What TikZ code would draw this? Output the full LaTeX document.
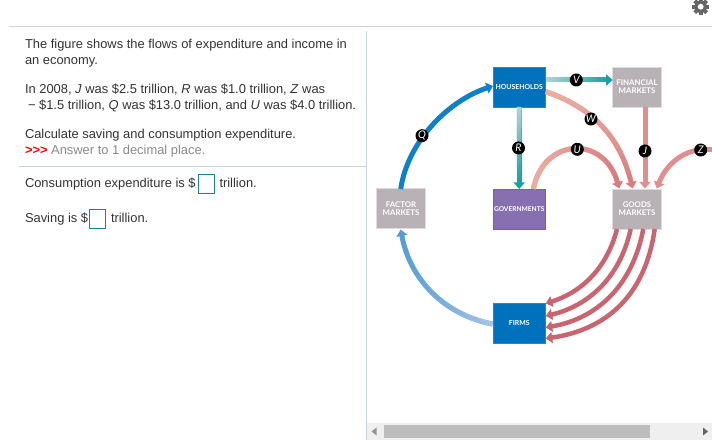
\documentclass[tikz,border=0pt]{standalone}
\usepackage{fontspec}
\setmainfont{Liberation Sans}
\newfontfamily\boxfont{Lato}
\usetikzlibrary{arrows.meta,fadings}
\definecolor{rule}{HTML}{CBD2E2}
\definecolor{ink}{HTML}{333333}
\definecolor{dkblue}{HTML}{0071BC}
\definecolor{qblue}{HTML}{0D80C8}
\definecolor{ltblue}{HTML}{A9C6E6}
\definecolor{fblue}{HTML}{559CD3}
\definecolor{greybox}{HTML}{B8B2B6}
\definecolor{greyedge}{HTML}{DEDADE}
\definecolor{purple1}{HTML}{8870B0}
\definecolor{purple2}{HTML}{7560A8}
\definecolor{teal1}{HTML}{17A1A5}
\definecolor{teal2}{HTML}{B9D6D6}
\definecolor{salmon}{HTML}{EAB1A2}
\definecolor{rose}{HTML}{DF8F8F}
\definecolor{crim}{HTML}{C8656F}
\definecolor{headrose}{HTML}{D87C7F}
\definecolor{answer}{HTML}{1B7FA0}
\definecolor{hint}{HTML}{8A8A8A}
\definecolor{barbg}{HTML}{EFEFEF}
\definecolor{barthumb}{HTML}{BDBDBD}
\definecolor{gearc}{HTML}{666666}
\tikzset{
  x=1pt,y=-1pt,
  body/.style={anchor=base west,inner sep=0pt,outer sep=0pt,text=ink,font=\fontsize{12.9}{15}\selectfont},
  flowbox/.style={minimum height=40pt,inner sep=0pt,outer sep=0pt,align=center,text=white},
  bluebox/.style={flowbox,fill=dkblue,draw=dkblue!85!white,line width=.6pt,minimum width=52.6pt,
     font=\boxfont\bfseries\fontsize{6.9}{7.6}\selectfont},
  greyb/.style={flowbox,fill=greybox,draw=greyedge,line width=.8pt,minimum width=48.6pt,
     font=\boxfont\bfseries\fontsize{7.8}{8}\selectfont},
  purpleb/.style={flowbox,fill=purple1,draw=purple2,line width=.6pt,minimum width=52.6pt,
     font=\boxfont\bfseries\fontsize{6.6}{7.6}\selectfont},
  flowtag/.style={circle,fill=black,minimum size=13pt,inner sep=0pt,text=white,
     font=\boxfont\itshape\fontsize{10.5}{10.5}\selectfont},
  flow/.style={line width=#1,-{Triangle[width=11pt,length=6.5pt]}},
  flow/.default=5pt,
  ansbox/.style={draw=answer,line width=.8pt,inner sep=0pt,minimum width=16pt,minimum height=19pt},
}
\begin{document}
\begin{tikzpicture}
\useasboundingbox (0,0) rectangle (712,446);
\fill[white] (0,0) rectangle (712,446);
% frame rules
\draw[rule,line width=.9pt] (9,26) -- (712,26);
\draw[rule,line width=.9pt] (366.5,31.5) -- (366.5,440);
\draw[rule,line width=.9pt] (19,166) -- (366.5,166);
% settings gear
\begin{scope}[shift={(700.7,6.7)}]
  \foreach \a in {0,45,...,315}
    \fill[gearc,rotate=\a] (-2,-8.4) rectangle (2,0);
  \fill[gearc] (0,0) circle (6.2);
  \fill[white] (0,0) circle (2.9);
\end{scope}
% question text
\node[body] (l1) at (25,49) {The figure shows the flows of expenditure and income in};
\node[body] (l2) at (25,65) {an economy.};
\node[body] (l3) at (25,94) {In 2008, \textit{J} was \$2.5 trillion, \textit{R} was \$1.0 trillion, \textit{Z} was};
\node[body] (l4) at (28,110) {− \$1.5 trillion, \textit{Q} was \$13.0 trillion, and \textit{U} was \$4.0 trillion.};
\node[body] (l5) at (25,139) {Calculate saving and consumption expenditure.};
\node[body,text=hint] (l6) at (25,155) {\textcolor{red}{\textbf{>{}>{}>}} Answer to 1 decimal place.};
\node[body] (c1) at (25,188) {Consumption expenditure is \$};
\node[ansbox] (cbox) at (206.5,183.7) {};
\node[body] (c2) at (219.5,188) {trillion.};
\node[body] (s1) at (25,223) {Saving is \$};
\node[ansbox] (sbox) at (97.8,218.5) {};
\node[body] (s2) at (111,223) {trillion.};
% boxes
\node[bluebox] (hh) at (519.2,87) {HOUSEHOLDS};
\node[greyb] (fin) at (637,87) {FINANCIAL\\MARKETS};
\node[greyb] (fac) at (401,208.7) {FACTOR\\MARKETS};
\node[purpleb] (gov) at (519.2,209) {GOVERNMENTS};
\node[greyb] (goods) at (637,209) {GOODS\\MARKETS};
\node[bluebox] (firms) at (519.2,323.5) {FIRMS};
% connector ends
\coordinate (qs) at (400.7,189);
\coordinate (qe) at (493,86);
\coordinate (fs) at (492.5,324);
\coordinate (fe) at (400.7,229.5);
\coordinate (vs) at (545.7,80);
\coordinate (ve) at (612.7,80);
\coordinate (ws) at (545.7,91.7);
\coordinate (we) at (632.7,188.5);
\coordinate (us) at (533.3,189);
\coordinate (ue) at (619.3,188.5);
\coordinate (zs) at (714,150);
\coordinate (ze) at (656.7,188.5);
\coordinate (gj) at (645,188.5);
\coordinate (fj) at (645,107);
\coordinate (r1) at (617,229);
\coordinate (r2) at (630.7,229);
\coordinate (r3) at (643.3,229);
\coordinate (r4) at (654.7,229);
\coordinate (t1) at (545.7,303.5);
\coordinate (t2) at (545.7,316);
\coordinate (t3) at (545.7,327.5);
\coordinate (t4) at (545.7,338.5);
% connectors
\draw[flow,qblue] (qs) .. controls (408,140) and (450,100) .. (qe);
\draw[flow,fblue] (fs) .. controls (445,315) and (410,280) .. (fe);
\path[draw=ltblue,line width=5pt,path fading=west] (fs) .. controls (445,315) and (410,280) .. (400.7,235);
\draw[flow,teal1] (hh.south) -- (gov.north);
\draw[teal2,line width=5pt,path fading=south] (hh.south) -- (518.5,180);
\draw[flow,teal1] (vs) -- (ve);
\draw[teal2,line width=5pt,path fading=east] (vs) -- (606,80);
\draw[flow,headrose] (ws) .. controls (600,110) and (622,145) .. (we);
\draw[salmon,line width=5pt,path fading=south] (ws) .. controls (600,110) and (622,145) .. (631.5,182);
\draw[flow,headrose] (us) .. controls (544,137) and (604,135) .. (ue);
\draw[salmon,line width=5pt,path fading=east] (us) .. controls (544,137) and (604,135) .. (616,183);
\draw[flow,rose] (fj) -- (gj);
\draw[flow,rose] (zs) .. controls (690,146) and (668,160) .. (ze);
\draw[flow=4.5pt,crim] (r1) .. controls (607,268) and (582,292) .. (t1);
\draw[flow=4.5pt,crim] (r2) .. controls (620,278) and (588,306) .. (t2);
\draw[flow=4.5pt,crim] (r3) .. controls (632,288) and (595,319) .. (t3);
\draw[flow=4.5pt,crim] (r4) .. controls (645,297) and (605,330) .. (t4);
% flow tags
\node[flowtag] (tq) at (422,135.7) {Q};
\node[flowtag] (tv) at (576.3,80) {V};
\node[flowtag] (tw) at (591,119) {W};
\node[flowtag] (tr) at (518.5,148) {R};
\node[flowtag] (tu) at (577.3,149.3) {U};
\node[flowtag] (tj) at (645,151) {J};
\node[flowtag] (tz) at (700.7,150) {Z};
% scrollbar
\fill[barbg] (367,423) rectangle (712,440);
\fill[barthumb] (384,425) rectangle (650,438);
\fill[gearc!70!white] (371.5,431.5) -- (376.5,427.5) -- (376.5,435.5) -- cycle;
\fill[gearc] (708,431.5) -- (703,427.5) -- (703,435.5) -- cycle;
\end{tikzpicture}
\end{document}
